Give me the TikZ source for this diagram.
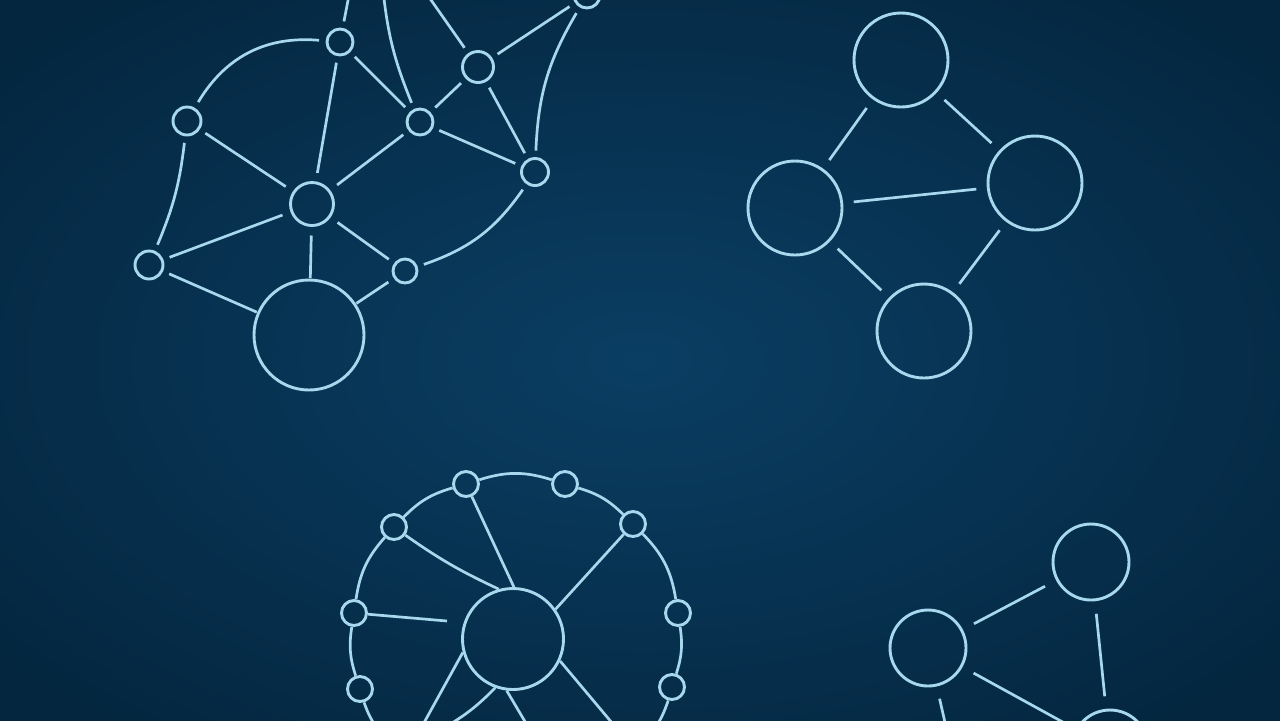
\documentclass[tikz,border=0pt]{standalone}
\definecolor{bgin}{HTML}{0A3E63}
\definecolor{bgout}{HTML}{04263F}
\definecolor{ln}{HTML}{A8D8EE}
\begin{document}
\begin{tikzpicture}[x=0.5pt,y=0.5pt,
  nd/.style={draw=ln,circle,inner sep=0pt,line width=1.45pt},
  sm/.style={nd,minimum size=13pt,outer sep=4pt},
  edge/.style={draw=ln,line width=1.35pt},
  big/.style={nd,minimum size=47pt,outer sep=6pt}]
\useasboundingbox (0,0) rectangle (1280,-720);
\shade[inner color=bgin,outer color=bgout] (-200,120) rectangle (1480,-840);
\clip (0,0) rectangle (1280,-720);

% ---------- top-left network ----------
\node[sm] (A) at (340,-42) {};
\node[sm,minimum size=14pt] (B) at (187,-121) {};
\node[sm] (C) at (420,-122) {};
\node[sm,minimum size=15.5pt] (D) at (478,-67) {};
\node[sm] (E) at (587,5) {};
\node[sm,minimum size=13.5pt] (F) at (535,-172) {};
\node[sm,minimum size=21.5pt,outer sep=5pt] (G) at (312,-204) {};
\node[sm,minimum size=14pt] (H) at (149,-265) {};
\node[sm,minimum size=12pt] (I) at (405,-271) {};
\node[nd,minimum size=55pt,outer sep=1pt] (J) at (309,-335) {};
\coordinate (At) at (350,10);
\coordinate (Ct) at (383,10);
\coordinate (Dt) at (424,10);

\draw[edge] (A) -- (At);
\draw[edge] (C) to[bend left=8] (Ct);
\draw[edge] (D) -- (Dt);
\draw[edge] (A) to[bend right=32] (B);
\draw[edge] (A) -- (C);
\draw[edge] (A) -- (G);
\draw[edge] (B) -- (G);
\draw[edge] (B) to[bend left=8] (H);
\draw[edge] (C) -- (D);
\draw[edge] (C) -- (F);
\draw[edge] (C) -- (G);
\draw[edge] (D) -- (E);
\draw[edge] (D) -- (F);
\draw[edge] (E) to[bend right=14] (F);
\draw[edge] (F) to[bend left=18] (I);
\draw[edge] (G) -- (H);
\draw[edge] (G) -- (J);
\draw[edge] (G) -- (I);
\draw[edge] (H) -- (J);
\draw[edge] (I) -- (J);

% ---------- top-right network ----------
\node[big] (T1) at (901,-60) {};
\node[big] (T2) at (795,-208) {};
\node[big] (T3) at (1035,-183) {};
\node[big] (T4) at (924,-331) {};
\draw[edge] (T1) -- (T2);
\draw[edge] (T1) -- (T3);
\draw[edge] (T2) -- (T3);
\draw[edge] (T2) -- (T4);
\draw[edge] (T3) -- (T4);

% ---------- bottom network ----------
\node[nd,minimum size=50.5pt] (BC) at (513,-639) {};
\node[nd,minimum size=12.5pt] (N1) at (466,-484) {};
\node[nd,minimum size=12.5pt] (N2) at (565,-484) {};
\node[nd,minimum size=12.5pt] (N3) at (633,-524) {};
\node[nd,minimum size=12.5pt] (N4) at (394,-527) {};
\node[nd,minimum size=12.5pt] (N5) at (354,-613) {};
\node[nd,minimum size=12.5pt] (N6) at (678,-613) {};
\node[nd,minimum size=12.5pt] (N7) at (360,-689) {};
\node[nd,minimum size=12.5pt] (N8) at (672,-687) {};
\coordinate (R7) at (378,-730);
\coordinate (R8) at (654,-730);
\coordinate (S5) at (447,-621);
\coordinate (B1) at (420,-730);
\coordinate (B2) at (440,-730);
\coordinate (B3) at (530,-730);
\coordinate (B4) at (618,-730);

\draw[edge] (R7) to[bend left=7] (N7);
\draw[edge] (N7) to[bend left=13.5] (N5);
\draw[edge] (N5) to[bend left=16.6] (N4);
\draw[edge] (N4) to[bend left=14.7] (N1);
\draw[edge] (N1) to[bend left=17.6] (N2);
\draw[edge] (N2) to[bend left=13.9] (N3);
\draw[edge] (N3) to[bend left=17.6] (N6);
\draw[edge] (N6) to[bend left=13.2] (N8);
\draw[edge] (N8) to[bend left=7] (R8);

\draw[edge] (N1) -- (BC.89);
\draw[edge] (N4) to[bend right=5] (BC.106);
\draw[edge] (N3) -- (BC.35);
\draw[edge] (N5) -- (S5);
\draw[edge] (BC.195) -- (B1);
\draw[edge] (BC.250) to[bend left=8] (B2);
\draw[edge] (BC.263) -- (B3);
\draw[edge] (BC.335) -- (B4);

% ---------- bottom-right network ----------
\node[nd,minimum size=38pt,outer sep=7pt] (Q1) at (1091,-562) {};
\node[nd,minimum size=38pt,outer sep=7pt] (Q2) at (928,-648) {};
\node[nd,minimum size=38pt,outer sep=7pt] (Q3) at (1110,-748) {};
\coordinate (Q4) at (949,-740);
\draw[edge] (Q2) -- (Q1);
\draw[edge] (Q1) -- (Q3);
\draw[edge] (Q2) -- (Q3);
\draw[edge] (Q2) -- (Q4);
\end{tikzpicture}
\end{document}
